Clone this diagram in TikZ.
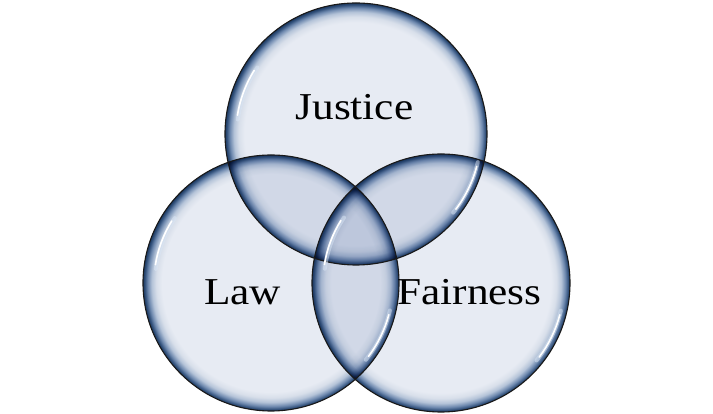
\documentclass[tikz,border=0pt]{standalone}
\usepackage{fontspec}
\setmainfont[FakeStretch=1.14]{Liberation Serif}
\usetikzlibrary{calc}
\definecolor{bin}{HTML}{E7EBF3}
\definecolor{bm0}{HTML}{D8DFEA}
\definecolor{bm1}{HTML}{B4C3D8}
\definecolor{bm2}{HTML}{6D88AE}
\definecolor{bm3}{HTML}{2E4D77}
\definecolor{bout}{HTML}{1C3A63}
\definecolor{glow}{HTML}{DCE8F7}
\pgfdeclareradialshading{bubble}{\pgfpoint{0bp}{0bp}}{color(0bp)=(bin); color(21.3bp)=(bin); color(22.4bp)=(bm0); color(23.3bp)=(bm1); color(24.1bp)=(bm2); color(24.7bp)=(bm3); color(25bp)=(bout); color(50bp)=(bout)}
\tikzset{
  bubblefill/.style={shading=bubble, blend mode=multiply},
  rim/.style={draw=black!90, line width=1.1pt},
  hlwide/.style={draw=glow, line width=4pt, opacity=0.5, line cap=round},
  hlthin/.style={draw=white, line width=1.6pt, opacity=1, line cap=round},
  label/.style={font=\fontsize{38}{40}\selectfont, anchor=base, inner sep=0pt}
}
\begin{document}
\begin{tikzpicture}[x=1pt,y=1pt]
\useasboundingbox (0,0) rectangle (713,414);
\coordinate (J) at (356,280);
\coordinate (L) at (271,131);
\coordinate (F) at (441,131);
% bubbles
\shade[bubblefill] (J) circle[radius=131];
\shade[bubblefill] (L) circle[radius=128];
\shade[bubblefill] (F) circle[radius=129];
% outlines
\draw[rim] (J) circle[radius=131];
\draw[rim] (L) circle[radius=128];
\draw[rim] (F) circle[radius=129];
% highlights
\foreach \c/\r in {J/131, L/128, F/129}{
  \draw[hlwide] ($(\c)+(146:\r-12)$) arc (146:173:\r-12);
  \draw[hlthin] ($(\c)+(148:\r-11)$) arc (148:171:\r-11);
  \draw[hlwide] ($(\c)+(-13:\r-6)$) arc (-13:-39:\r-6);
  \draw[hlthin] ($(\c)+(-15:\r-6)$) arc (-15:-37:\r-6);
}
% labels
\node[label] (tj) at (354.5,294) {Justice};
\node[label] (tl) at (242.5,109) {Law};
\node[label] (tf) at (469.5,109) {Fairness};
\end{tikzpicture}
\end{document}
